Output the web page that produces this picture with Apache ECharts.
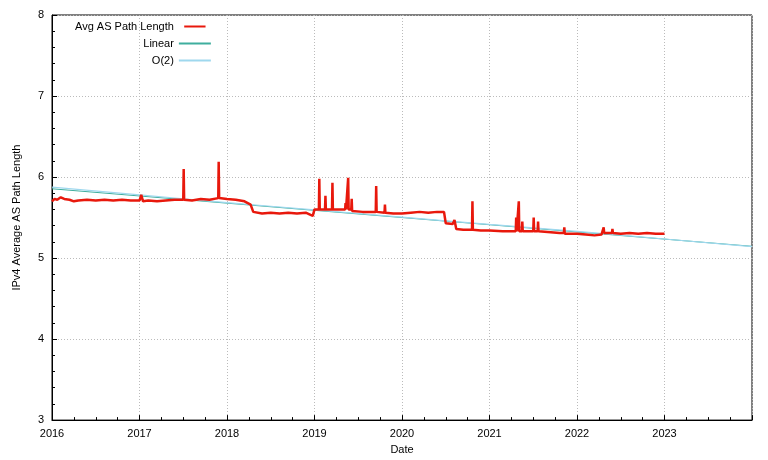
<!DOCTYPE html>
<html>
<head>
<meta charset="UTF-8">
<script src="https://cdn.jsdelivr.net/npm/echarts@6/dist/echarts.min.js"></script>
</head>
<body style="margin:0">
<div id="container" style="width:768px;height:460px"></div>
<script>
// avg AS path length, [decimal year, value]
var avgPath = [
  [2016.00,5.70],[2016.03,5.73],[2016.06,5.72],[2016.1,5.75],[2016.14,5.73],[2016.2,5.72],[2016.25,5.70],[2016.3,5.71],
  [2016.4,5.72],[2016.5,5.71],[2016.6,5.72],[2016.7,5.71],[2016.8,5.72],[2016.9,5.71],
  [2017.0,5.71],[2017.02,5.78],[2017.04,5.70],[2017.1,5.71],[2017.2,5.70],[2017.3,5.71],[2017.4,5.72],
  [2017.5,5.72],[2017.505,6.10],[2017.51,5.72],[2017.6,5.71],[2017.7,5.73],[2017.8,5.72],
  [2017.9,5.74],[2017.905,6.19],[2017.91,5.74],[2018.0,5.73],[2018.1,5.72],[2018.2,5.70],[2018.27,5.66],
  [2018.3,5.57],[2018.4,5.55],[2018.5,5.56],[2018.6,5.55],[2018.7,5.56],[2018.8,5.55],[2018.9,5.56],[2018.98,5.52],
  [2019.0,5.60],[2019.05,5.60],[2019.055,5.98],[2019.06,5.60],[2019.12,5.60],[2019.125,5.77],[2019.13,5.60],
  [2019.2,5.60],[2019.205,5.93],[2019.21,5.60],[2019.35,5.60],[2019.355,5.68],[2019.36,5.60],
  [2019.38,5.60],[2019.385,5.99],[2019.39,5.60],[2019.42,5.60],[2019.425,5.73],[2019.43,5.58],
  [2019.55,5.57],[2019.7,5.57],[2019.705,5.89],[2019.71,5.57],[2019.8,5.56],[2019.805,5.66],[2019.81,5.56],
  [2019.9,5.55],[2020.0,5.55],[2020.1,5.56],[2020.2,5.57],[2020.3,5.56],[2020.4,5.57],[2020.48,5.57],[2020.5,5.43],[2020.58,5.42],
  [2020.6,5.47],[2020.62,5.36],[2020.7,5.35],[2020.8,5.35],[2020.805,5.70],[2020.81,5.35],
  [2020.9,5.34],[2021.0,5.34],[2021.15,5.33],[2021.3,5.33],[2021.305,5.50],[2021.31,5.33],[2021.33,5.33],[2021.335,5.70],[2021.34,5.33],
  [2021.37,5.33],[2021.375,5.45],[2021.38,5.33],[2021.5,5.33],[2021.505,5.50],[2021.51,5.33],
  [2021.55,5.33],[2021.555,5.45],[2021.56,5.33],[2021.7,5.32],[2021.8,5.31],[2021.85,5.31],[2021.855,5.38],[2021.86,5.30],
  [2022.0,5.30],[2022.1,5.29],[2022.2,5.28],[2022.28,5.29],[2022.3,5.31],[2022.305,5.38],[2022.31,5.31],
  [2022.4,5.31],[2022.405,5.36],[2022.41,5.31],[2022.5,5.30],[2022.6,5.31],[2022.7,5.30],[2022.8,5.31],[2022.9,5.30],[2023.0,5.30]
];
var linearFit = [[2016,5.855],[2024,5.145]];
var quadFit = [[2016,5.875],[2017,5.78],[2018,5.685],[2019,5.595],[2020,5.505],[2021,5.415],[2022,5.33],[2023,5.235],[2024,5.14]];

var myChart = echarts.init(document.getElementById('container'));
var font = 'Liberation Sans';
var tickLine = {color: '#000'};
var option = {
  animation: false,
  textStyle: {fontFamily: font},
  grid: {left: 52, right: 16, top: 15, bottom: 38, show: true, borderColor: '#000', borderWidth: 1},
  legend: {
    orient: 'vertical', left: 70, top: 16, align: 'right',
    itemWidth: 32, itemHeight: 2, itemGap: 6, icon: 'rect',
    textStyle: {fontFamily: font, fontSize: 11, color: '#000'},
    data: [
      {name: 'Avg AS Path Length', itemStyle: {color: '#e8180c'}, icon: 'path://M0,0 H32 V3 H0 Z'},
      {name: 'Linear'}, {name: 'O(2)'}
    ]
  },
  xAxis: {
    type: 'value', min: 2016, max: 2024, interval: 1,
    name: 'Date', nameLocation: 'middle', nameGap: 22,
    nameTextStyle: {color: '#000', fontSize: 11},
    axisLine: {lineStyle: tickLine},
    axisTick: {inside: true, length: 5, lineStyle: tickLine},
    minorTick: {show: true, splitNumber: 4, length: 3, lineStyle: tickLine},
    axisLabel: {color: '#000', fontSize: 11, formatter: function (v) { return v === 2024 ? '' : String(v); }},
    splitLine: {show: true, lineStyle: {color: '#bbb', type: [1, 2]}}
  },
  yAxis: {
    type: 'value', min: 3, max: 8, interval: 1,
    name: 'IPv4 Average AS Path Length', nameLocation: 'middle', nameGap: 30,
    nameTextStyle: {color: '#000', fontSize: 11},
    axisLine: {show: true, lineStyle: tickLine},
    axisTick: {inside: true, length: 5, lineStyle: tickLine},
    minorTick: {show: true, splitNumber: 5, length: 3, lineStyle: tickLine},
    axisLabel: {color: '#000', fontSize: 11},
    splitLine: {show: true, lineStyle: {color: '#bbb', type: [1, 2]}}
  },
  series: [
    {name: 'Avg AS Path Length', type: 'line', data: avgPath, symbol: 'none', z: 3,
     lineStyle: {color: '#e8180c', width: 2.5}, itemStyle: {color: '#e8180c'}},
    {name: 'Linear', type: 'line', data: linearFit, symbol: 'none', z: 2,
     lineStyle: {color: '#3fae9e', width: 1}, itemStyle: {color: '#3fae9e'}},
    {name: 'O(2)', type: 'line', data: quadFit, symbol: 'none', smooth: true, z: 2,
     lineStyle: {color: '#9fd8ee', width: 1.2}, itemStyle: {color: '#9fd8ee'}}
  ]
};
myChart.setOption(option);
</script>
</body>
</html>
